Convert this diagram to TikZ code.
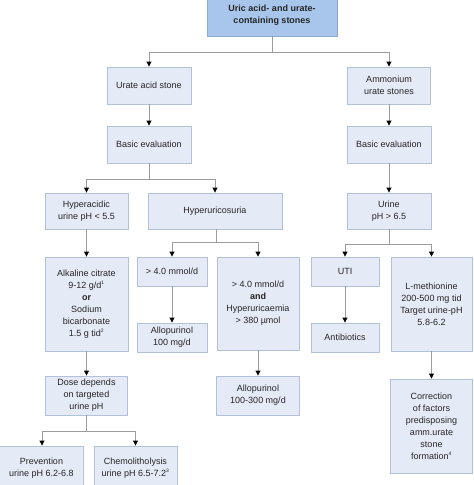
\documentclass[tikz,border=0pt]{standalone}
\usepackage{fontspec}
\setmainfont{Liberation Sans}
\usetikzlibrary{arrows.meta}
\definecolor{boxfill}{HTML}{E4EAF6}
\definecolor{boxline}{HTML}{B2C1D6}
\definecolor{topfill}{HTML}{A8C6EC}
\definecolor{topline}{HTML}{8EA9CC}
\definecolor{conn}{HTML}{9C9C9C}
\tikzset{
  box/.style={rectangle, draw=boxline, fill=boxfill, line width=0.9pt, inner sep=1pt,
    align=center, font=\fontsize{9}{12}\selectfont, text=black!85},
  topbox/.style={box, draw=topline, fill=topfill, font=\fontsize{9}{12}\selectfont\bfseries},
  arr/.style={draw=conn, line width=0.9pt, -{Triangle[width=5pt,length=5pt,color=black]}},
  ln/.style={draw=conn, line width=0.9pt}
}
\newcommand{\sps}[1]{\textsuperscript{\fontsize{5}{5}\selectfont #1}}
\begin{document}
\begin{tikzpicture}[x=1pt,y=-1pt]
\useasboundingbox (0,0) rectangle (474,485);
\node[topbox, minimum width=130pt, minimum height=41pt] (top) at (272,15.5) {Uric acid- and urate-\\containing stones};
\node[box, minimum width=84pt, minimum height=37pt] (urate) at (149,85.5) {Urate acid stone};
\node[box, minimum width=83pt, minimum height=37pt] (ammon) at (389,85.5) {Ammonium\\urate stones};
\node[box, minimum width=84pt, minimum height=37pt] (basicL) at (149,144.5) {Basic evaluation};
\node[box, minimum width=84pt, minimum height=37pt] (basicR) at (389,144.5) {Basic evaluation};
\node[box, minimum width=83pt, minimum height=36pt] (hacid) at (86.5,211) {Hyperacidic\\urine pH < 5.5};
\node[box, minimum width=134pt, minimum height=36pt] (huric) at (215,211) {Hyperuricosuria};
\node[box, minimum width=84pt, minimum height=36pt] (urine) at (389,211) {Urine\\pH > 6.5};
\node[box, minimum width=83pt, minimum height=94pt] (alk) at (86.5,304) {Alkaline citrate\\9-12 g/d\sps{1}\\\textbf{or}\\Sodium\\bicarbonate\\1.5 g tid\sps{2}};
\node[box, minimum width=70pt, minimum height=29pt] (gt4) at (172,271.5) {> 4.0 mmol/d};
\node[box, minimum width=70pt, minimum height=29pt] (allo1) at (172,337.5) {Allopurinol\\100 mg/d};
\node[box, minimum width=82pt, minimum height=93pt] (hyp) at (258,303.5) {> 4.0 mmol/d\\\textbf{and}\\Hyperuricaemia\\> 380 µmol};
\node[box, minimum width=68pt, minimum height=29pt] (uti) at (345,271.5) {UTI};
\node[box, minimum width=68pt, minimum height=29pt] (anti) at (345,337.5) {Antibiotics};
\node[box, minimum width=81pt, minimum height=94pt] (lmeth) at (431.5,304) {L-methionine\\200-500 mg tid\\Target urine-pH\\5.8-6.2};
\node[box, minimum width=82pt, minimum height=39pt] (dose) at (86.5,395.5) {Dose depends\\on targeted\\urine pH};
\node[box, minimum width=83pt, minimum height=39pt] (allo3) at (258,395.5) {Allopurinol\\100-300 mg/d};
\node[box, minimum width=84pt, minimum height=44pt] (prev) at (41.5,468) {Prevention\\urine pH 6.2-6.8};
\node[box, minimum width=83pt, minimum height=44pt] (chemo) at (135.5,468) {Chemolitholysis\\urine pH 6.5-7.2\sps{3}};
\node[box, minimum width=82pt, minimum height=94pt] (corr) at (431.5,426) {Correction\\of factors\\predisposing\\amm.urate\\stone\\formation\sps{4}};
% connectors
\draw[ln] (top.south) -- ++(0,16) coordinate (s1);
\draw[arr] (s1) -| (urate.north);
\draw[arr] (s1) -| (ammon.north);
\draw[arr] (urate) -- (basicL);
\draw[arr] (ammon) -- (basicR);
\draw[ln] (basicL.south) -- ++(0,16) coordinate (s2);
\draw[arr] (s2) -| (hacid.north);
\draw[arr] (s2) -| (huric.north);
\draw[arr] (basicR) -- (urine);
\draw[ln] (urine.south) -- ++(0,15) coordinate (s3);
\draw[arr] (s3) -| (uti.north);
\draw[arr] (s3) -| (lmeth.north);
\draw[ln] ([xshift=1pt]huric.south) -- ++(0,13) coordinate (s4);
\draw[arr] (s4) -| (gt4.north);
\draw[arr] (s4) -| (hyp.north);
\draw[arr] (hacid) -- (alk);
\draw[arr] (gt4) -- (allo1);
\draw[arr] (hyp.south) -- (allo3.north);
\draw[arr] (uti) -- (anti);
\draw[arr] (lmeth.south) -- (corr.north);
\draw[arr] (alk.south) -- (dose.north);
\draw[ln] (dose.south) -- ++(0,16) coordinate (s5);
\draw[arr] (s5) -| ([xshift=0.5pt]prev.north);
\draw[arr] (s5) -| (chemo.north);
\end{tikzpicture}
\end{document}
